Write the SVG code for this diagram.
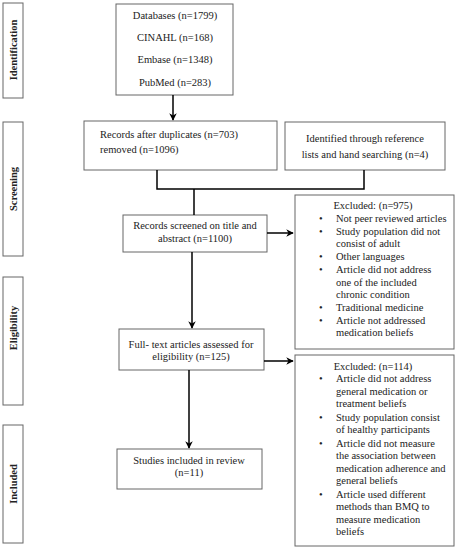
<svg xmlns="http://www.w3.org/2000/svg" width="459" height="550" viewBox="0 0 459 550">
<defs>
<style>
.box{fill:#fff;stroke:#666;stroke-width:1}
.t{font-family:"Liberation Serif","DejaVu Serif",serif;font-size:10.5px;fill:#222}
.c{text-anchor:middle}
.side{font-family:"Liberation Serif","DejaVu Serif",serif;font-size:10.5px;font-weight:bold;fill:#222;text-anchor:middle}
.ln{fill:none;stroke:#000;stroke-width:1.5}
</style>
<marker id="ah" viewBox="0 0 10 10" refX="9" refY="5" markerWidth="5" markerHeight="5" orient="auto">
<path d="M0,0 L10,5 L0,10 L3,5 Z" fill="#000"/>
</marker>
</defs>
<rect width="459" height="550" fill="#fff"/>
<g id="side-identification"><rect class="box" x="3" y="3" width="20" height="95"/><text class="side" transform="translate(17,50) rotate(-90)">Identification</text></g>
<g id="side-screening"><rect class="box" x="3" y="122" width="20" height="134"/><text class="side" transform="translate(17,189) rotate(-90)">Screening</text></g>
<g id="side-eligibility"><rect class="box" x="3" y="277" width="20" height="128"/><text class="side" transform="translate(17,328) rotate(-90)">Eligibility</text></g>
<g id="side-included"><rect class="box" x="3" y="425" width="20" height="118"/><text class="side" transform="translate(17,484) rotate(-90)">Included</text></g>

<g id="databases"><rect class="box" x="116" y="4" width="117" height="91"/>
<text class="t c" x="175" y="19">Databases (n=1799)</text>
<text class="t c" x="175" y="41">CINAHL (n=168)</text>
<text class="t c" x="175" y="63">Embase (n=1348)</text>
<text class="t c" x="175" y="86">PubMed (n=283)</text></g>

<g id="duplicates"><rect class="box" x="84" y="121" width="193" height="49"/>
<text class="t" x="100" y="138">Records after duplicates (n=703)</text>
<text class="t" x="100" y="153">removed (n=1096)</text></g>

<g id="reference"><rect class="box" x="285" y="122" width="160" height="48"/>
<text class="t c" x="365" y="142">Identified through reference</text>
<text class="t c" x="365" y="158">lists and hand searching (n=4)</text></g>

<g id="screened"><rect class="box" x="123" y="215" width="144" height="37"/>
<text class="t c" x="195" y="229">Records screened on title and</text>
<text class="t c" x="195" y="242">abstract (n=1100)</text></g>

<g id="excluded1"><rect class="box" x="295" y="195" width="159" height="154"/>
<text class="t c" x="373" y="209">Excluded: (n=975)</text>
<g class="t">
<text x="319" y="222">•</text><text x="336" y="222">Not peer reviewed articles</text>
<text x="319" y="235">•</text><text x="336" y="235">Study population did not</text>
<text x="336" y="247">consist of adult</text>
<text x="319" y="260">•</text><text x="336" y="260">Other languages</text>
<text x="319" y="273">•</text><text x="336" y="273">Article did not address</text>
<text x="336" y="286">one of the included</text>
<text x="336" y="298">chronic condition</text>
<text x="319" y="311">•</text><text x="336" y="311">Traditional medicine</text>
<text x="319" y="324">•</text><text x="336" y="324">Article not addressed</text>
<text x="336" y="336">medication beliefs</text>
</g></g>

<g id="fulltext"><rect class="box" x="119" y="329" width="145" height="41"/>
<text class="t c" x="191" y="348">Full- text articles assessed for</text>
<text class="t c" x="191" y="360">eligibility (n=125)</text></g>

<g id="excluded2"><rect class="box" x="295" y="355" width="159" height="191"/>
<text class="t c" x="373" y="370">Excluded: (n=114)</text>
<g class="t">
<text x="319" y="382">•</text><text x="336" y="382">Article did not address</text>
<text x="336" y="395">general medication or</text>
<text x="336" y="407">treatment beliefs</text>
<text x="319" y="421">•</text><text x="336" y="421">Study population consist</text>
<text x="336" y="433">of healthy participants</text>
<text x="319" y="447">•</text><text x="336" y="447">Article did not measure</text>
<text x="336" y="459">the association between</text>
<text x="336" y="472">medication adherence and</text>
<text x="336" y="484">general beliefs</text>
<text x="319" y="498">•</text><text x="336" y="498">Article used different</text>
<text x="336" y="510">methods than BMQ to</text>
<text x="336" y="523">measure medication</text>
<text x="336" y="535">beliefs</text>
</g></g>

<g id="studies"><rect class="box" x="117" y="449" width="145" height="40"/>
<text class="t c" x="189" y="464">Studies included in review</text>
<text class="t c" x="189" y="476">(n=11)</text></g>

<g id="connectors">
<path class="ln" d="M173,95 V120" marker-end="url(#ah)"/>
<path class="ln" d="M157,170 V189 H364 V170"/>
<path class="ln" d="M194,189 V215"/>
<path class="ln" d="M192,252 V328" marker-end="url(#ah)"/>
<path class="ln" d="M267,233 H293" marker-end="url(#ah)"/>
<path class="ln" d="M264,361 H293" marker-end="url(#ah)"/>
<path class="ln" d="M189,370 V448" marker-end="url(#ah)"/>
</g>
</svg>
